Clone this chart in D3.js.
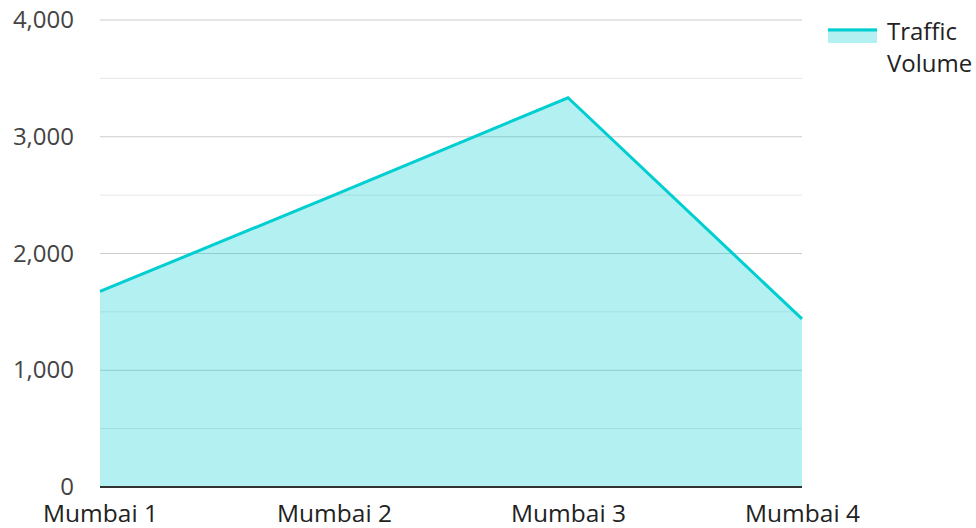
<!DOCTYPE html>
<html>
<head>
<meta charset="utf-8">
<script src="https://cdn.jsdelivr.net/npm/d3@7"></script>
<style>
  body { margin: 0; background: #fff; }
  text { font-family: "Open Sans", "Noto Sans", sans-serif; }
</style>
</head>
<body>
<div id="chart"></div>
<script>
// chart data
var locations = ["Mumbai 1", "Mumbai 2", "Mumbai 3", "Mumbai 4"];
var traffic = [1675, 2500, 3334, 1440];
var yTicks = [0, 1000, 2000, 3000, 4000];
var minorTicks = [500, 1500, 2500, 3500];
var seriesName = ["Traffic", "Volume"];

var width = 976, height = 528;
var margin = { top: 20, left: 100, right: 174, bottom: 41 };

var svg = d3.select("#chart").append("svg")
  .attr("width", width)
  .attr("height", height);

var x = d3.scalePoint()
  .domain(locations)
  .range([margin.left, width - margin.right]);

var y = d3.scaleLinear()
  .domain([0, 4000])
  .range([height - margin.bottom, margin.top]);

// gridlines
svg.append("g").selectAll("line.minor")
  .data(minorTicks)
  .enter().append("line")
  .attr("x1", margin.left).attr("x2", width - margin.right)
  .attr("y1", function(d){ return y(d); }).attr("y2", function(d){ return y(d); })
  .attr("stroke", "#e6e6e6").attr("stroke-width", 1);

svg.append("g").selectAll("line.major")
  .data(yTicks.slice(1))
  .enter().append("line")
  .attr("x1", margin.left).attr("x2", width - margin.right)
  .attr("y1", function(d){ return y(d); }).attr("y2", function(d){ return y(d); })
  .attr("stroke", "#cccccc").attr("stroke-width", 1);

var pts = locations.map(function(l, i){ return { name: l, v: traffic[i] }; });

var area = d3.area()
  .x(function(d){ return x(d.name); })
  .y0(y(0))
  .y1(function(d){ return y(d.v); });

var line = d3.line()
  .x(function(d){ return x(d.name); })
  .y(function(d){ return y(d.v); });

svg.append("path")
  .datum(pts)
  .attr("d", area)
  .attr("fill", "#00ced1")
  .attr("fill-opacity", 0.3);

svg.append("path")
  .datum(pts)
  .attr("d", line)
  .attr("fill", "none")
  .attr("stroke", "#00ced1")
  .attr("stroke-width", 3);

// baseline
svg.append("line")
  .attr("x1", margin.left).attr("x2", width - margin.right)
  .attr("y1", y(0)).attr("y2", y(0))
  .attr("stroke", "#333").attr("stroke-width", 2);

// y labels
var yAxis = d3.axisLeft(y).tickValues(yTicks).tickSize(0).tickPadding(26)
  .tickFormat(d3.format(","));
var gy = svg.append("g")
  .attr("transform", "translate(" + margin.left + ",0)")
  .call(yAxis);
gy.select(".domain").remove();
gy.selectAll("text").attr("font-size", 24).attr("fill", "#444")
  .style("font-family", "'Open Sans', sans-serif");

// x labels
var xAxis = d3.axisBottom(x).tickSize(0).tickPadding(18);
var gx = svg.append("g")
  .attr("transform", "translate(0," + y(0) + ")")
  .call(xAxis);
gx.select(".domain").remove();
gx.selectAll("text").attr("font-size", 24.5).attr("fill", "#222")
  .style("font-family", "'Open Sans', sans-serif");

// legend
var lg = svg.append("g").attr("transform", "translate(828,28)");
lg.append("rect").attr("x", 0).attr("y", 0).attr("width", 49).attr("height", 15)
  .attr("fill", "#00ced1").attr("fill-opacity", 0.3);
lg.append("line").attr("x1", 0).attr("x2", 49).attr("y1", 2).attr("y2", 2)
  .attr("stroke", "#00ced1").attr("stroke-width", 3);
lg.selectAll("text.leg")
  .data(seriesName)
  .enter().append("text")
  .attr("x", 59)
  .attr("y", function(d, i){ return 12 + i * 32; })
  .attr("font-size", 24)
  .attr("fill", "#222")
  .text(function(d){ return d; });
</script>
</body>
</html>
